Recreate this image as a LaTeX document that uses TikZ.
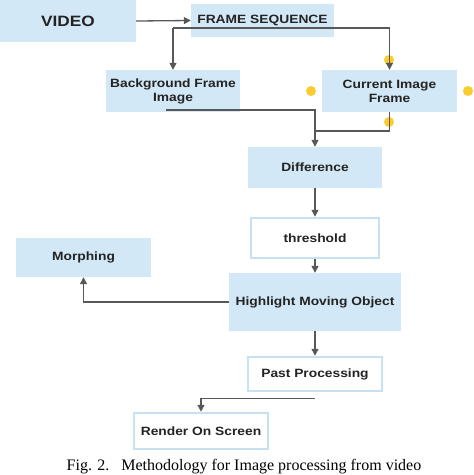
\documentclass[tikz,border=0pt]{standalone}
\usepackage{fontspec}
\setmainfont{Liberation Serif}
\newfontfamily\boxfont[FakeStretch=1.15]{Liberation Sans}
\usetikzlibrary{arrows.meta}
\definecolor{boxblue}{RGB}{210,232,246}
\definecolor{edgeblue}{RGB}{200,225,242}
\definecolor{arrowgray}{RGB}{88,88,88}
\definecolor{textdark}{RGB}{35,35,35}
\definecolor{dotyellow}{RGB}{250,204,45}
\tikzset{
  fillbox/.style={fill=boxblue, draw=none, align=center, inner sep=0pt, text=textdark, font=\boxfont\bfseries\fontsize{12}{14}\selectfont},
  linebox/.style={fill=white, draw=edgeblue, line width=2.5pt, align=center, inner sep=0pt, text=textdark, font=\boxfont\bfseries\fontsize{12}{14}\selectfont},
  arr/.style={draw=arrowgray, line width=1.3pt, -{Triangle[width=7pt,length=7pt]}},
  plain/.style={draw=arrowgray, line width=1.3pt},
  handle/.style={fill=dotyellow}
}
\begin{document}
\begin{tikzpicture}[x=1pt,y=-1pt]
\useasboundingbox (0,0) rectangle (474,475);

%Boxes
\node [fillbox, minimum width=136pt, minimum height=42pt, font=\boxfont\bfseries\fontsize{15}{17}\selectfont] (video) at (68,21) {VIDEO};
\node [fillbox, minimum width=143pt, minimum height=33pt] (frameseq) at (262.5,20.5) {FRAME SEQUENCE};
\node [fillbox, minimum width=134pt, minimum height=42pt] (bgframe) at (173,91) {Background Frame\\Image};
\node [fillbox, minimum width=135pt, minimum height=42pt] (curframe) at (389.5,91) {Current Image\\Frame};
\node [fillbox, minimum width=134pt, minimum height=41pt] (diff) at (315,167.5) {Difference};
\node [linebox, minimum width=128pt, minimum height=40pt] (thresh) at (315,238) {threshold};
\node [fillbox, minimum width=172pt, minimum height=58pt] (highlight) at (315,302) {Highlight Moving Object};
\node [fillbox, minimum width=135pt, minimum height=39pt] (morph) at (83.5,257.5) {Morphing};
\node [linebox, minimum width=134pt, minimum height=34pt] (past) at (315,374) {Past Processing};
\node [linebox, minimum width=134pt, minimum height=36pt] (render) at (201,431) {Render On Screen};

%Selection handles on Current Image Frame
\fill [handle] (389,60) circle (5);
\fill [handle] (311,91) circle (5);
\fill [handle] (468,91) circle (5);
\fill [handle] (389,122) circle (5);

%Junctions
\coordinate (fsj) at (173,28);
\coordinate (bgj) at (166,110);
\coordinate (cfj) at (315,131);
\coordinate (pj) at ([yshift=-6pt]past.south);

%Connectors
\draw [arr] (video.east) -- (frameseq.west);
\draw [arr] (fsj) -- (bgframe.north);
\draw [arr] (fsj) -| (curframe.north);
\draw [arr] (bgj) -| (diff.north);
\draw [plain] (curframe.south) |- (cfj);
\draw [arr] (diff.south) -- (thresh.north);
\draw [arr] (thresh.south) -- (highlight.north);
\draw [arr] (highlight.west) -| (morph.south);
\draw [arr] (highlight.south) -- (past.north);
\draw [arr] (pj) -| (render.north);

% Text Node
\node [anchor=base, font=\fontsize{16}{18}\selectfont] (caption) at (244,470) {Fig. 2.\ \ \ Methodology for Image processing from video};

\end{tikzpicture}
\end{document}
